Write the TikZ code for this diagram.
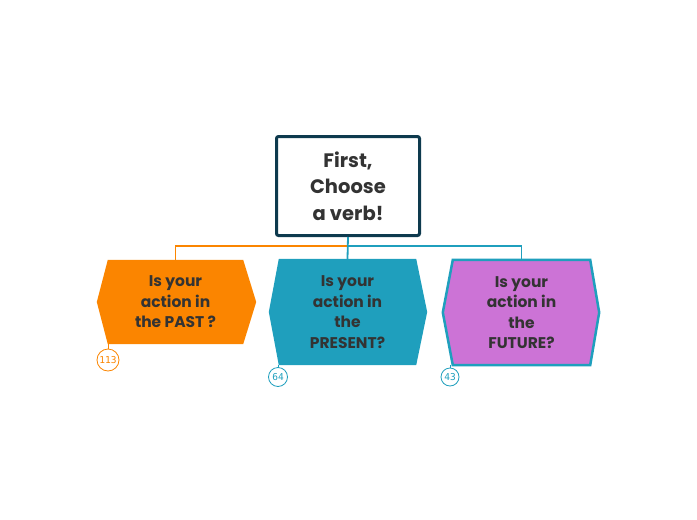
\documentclass[tikz,border=0pt]{standalone}
\usepackage{fontspec}
\setmainfont{Poppins}
\setmonofont{DejaVu Sans Mono}
\usetikzlibrary{backgrounds}
\definecolor{navy}{HTML}{0E3A4E}
\definecolor{pastc}{HTML}{FB8500}
\definecolor{tealc}{HTML}{1F9FBD}
\definecolor{futc}{HTML}{CC73D6}
\definecolor{inkc}{HTML}{333333}
\tikzset{
  rootbox/.style={draw=navy, line width=3pt, rounded corners=2pt, fill=white,
    minimum width=143pt, minimum height=99pt, align=center, text=inkc,
    font=\fontsize{19.5}{26.5}\selectfont\bfseries},
  askbox/.style={align=center, text=inkc, inner sep=0pt,
    font=\fontsize{15.5}{20.5}\selectfont\bfseries},
  link/.style={line width=1.8pt},
  tally/.style={circle, draw, line width=0.8pt, inner sep=0pt,
    font=\ttfamily\fontsize{9.5}{10}\selectfont}
}
\begin{document}
\begin{tikzpicture}[x=1pt,y=-1pt]
\useasboundingbox (0,0) rectangle (697,520);
\node[rootbox] (root) at (348,186) {First,\\Choose\\a verb!};
\node[askbox, minimum width=135pt, minimum height=84pt] (past) at (175.5,302) {Is your\\action in\\the PAST ?};
\node[askbox, minimum width=137pt, minimum height=106pt] (present) at (347.5,312) {Is your\\action in\\the\\PRESENT?};
\node[askbox, minimum width=137pt, minimum height=105pt] (future) at (521.5,312.5) {Is your\\action in\\the\\FUTURE?};
% hexagons behind the texts
\begin{scope}[on background layer]
\fill[pastc] (past.north west) -- (past.north east) -- ([xshift=13pt]past.east)
  -- (past.south east) -- (past.south west) -- ([xshift=-11pt]past.west) -- cycle;
\fill[tealc] (present.north west) -- (present.north east) -- ([xshift=11pt]present.east)
  -- (present.south east) -- (present.south west) -- ([xshift=-10pt]present.west) -- cycle;
\draw[tealc, fill=futc, line width=2.5pt] (future.north west) -- (future.north east) -- ([xshift=9pt]future.east)
  -- (future.south east) -- (future.south west) -- ([xshift=-10pt]future.west) -- cycle;
\end{scope}
% connectors
\coordinate (fork) at (348,246);
\draw[link, pastc] (fork) -| (past.north);
\draw[link, tealc] (fork) -| (future.north);
\draw[link, tealc] (root.south) -- (present.north);
% counters
\node[tally, draw=pastc, text=pastc, minimum size=22pt] (n1) at (108,360) {113};
\node[tally, draw=tealc, text=tealc, minimum size=19pt] (n2) at (278,377) {64};
\node[tally, draw=tealc, text=tealc, minimum size=18pt] (n3) at (450,377) {43};
\draw[pastc, line width=0.8pt] (n1.north) -- (n1.north |- past.south);
\draw[tealc, line width=0.8pt] (n2.north) -- (n2.north |- present.south);
\draw[tealc, line width=0.8pt] (n3.north) -- (n3.north |- future.south);
\end{tikzpicture}
\end{document}
